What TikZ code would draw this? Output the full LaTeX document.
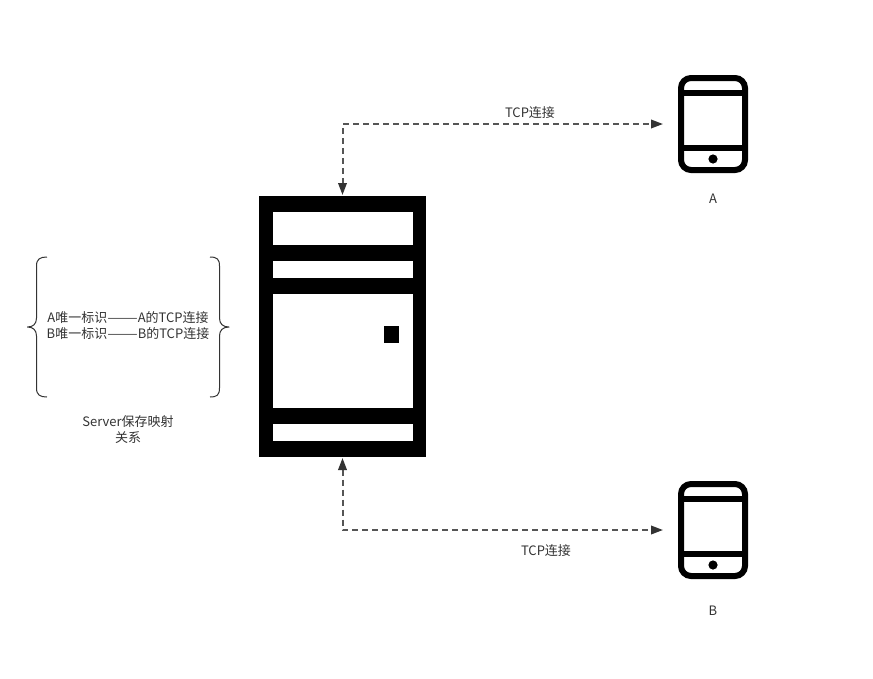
\documentclass[tikz,border=0pt]{standalone}
\usepackage{fontspec}
\setmainfont{Noto Sans CJK SC}
\usetikzlibrary{arrows.meta}

\definecolor{inkgrey}{HTML}{333333}
\definecolor{dashgrey}{HTML}{555555}

% The two em dashes of the table run a little longer than the font sets them
\newcommand{\longdash}{\scalebox{1.4}[1]{——}}

\tikzset{
    serverbox/.style={fill=black, minimum width=167pt, minimum height=261pt, inner sep=0pt, outer sep=0pt},
    phonebox/.style={draw=black, line width=6pt, rounded corners=10pt, minimum width=64pt, minimum height=92pt, inner sep=0pt, outer sep=0pt},
    phoneline/.style={draw=black, line width=6pt},
    slot/.style={fill=white},
    bracket/.style={draw=inkgrey, line width=1pt, line join=round},
    tcplink/.style={draw=dashgrey, line width=2pt, dash pattern=on 6pt off 4pt,
        {Triangle[length=12pt,width=8.5pt,inkgrey]}-{Triangle[length=12pt,width=8.5pt,inkgrey]},
        shorten <=1pt, shorten >=18pt},
    label/.style={text=inkgrey, font=\fontsize{13pt}{16pt}\selectfont, align=center, inner sep=0pt}
}

\begin{document}
\begin{tikzpicture}[x=1pt,y=-1pt]

    % Fix the page to the size of the reference
    \useasboundingbox (0,0) rectangle (873,678);

    % The server tower with its white slots
    \node[serverbox] (server) at (342.5,326.5) {};
    \fill[slot] (272.5,212) rectangle (412.5,245);
    \fill[slot] (272.5,261) rectangle (412.5,278);
    \fill[slot] (272.5,294) rectangle (412.5,408);
    \fill[slot] (272.5,424) rectangle (412.5,441);
    \fill[black] (384,326) rectangle (398.5,343);

    % The two phones, 406 apart
    \foreach \name/\cy in {phoneA/124, phoneB/530}{
        \node[phonebox] (\name) at (713,\cy) {};
        \draw[phoneline] (678,\cy-31) -- (748,\cy-31);
        \draw[phoneline] (678,\cy+24) -- (748,\cy+24);
        \fill[black] (713,\cy+35) circle (4.6);
    }

    % Dashed TCP links from the server to each phone
    \draw[tcplink] (server.north) |- (phoneA.west);
    \draw[tcplink] (server.south) |- (phoneB.west);

    % Left and right braces of the mapping table
    \draw[bracket] (47,257) .. controls (40,257) and (36.5,259) .. (36.5,266)
        -- (36.5,318) .. controls (36.5,324) and (33,327) .. (27.5,327)
        .. controls (33,327) and (36.5,330) .. (36.5,336)
        -- (36.5,388) .. controls (36.5,395) and (40,397) .. (47,397);
    \draw[bracket] (210,257) .. controls (217,257) and (219.5,259) .. (219.5,266)
        -- (219.5,318) .. controls (219.5,324) and (223,327) .. (229,327)
        .. controls (223,327) and (219.5,330) .. (219.5,336)
        -- (219.5,388) .. controls (219.5,395) and (217,397) .. (210,397);

    % Text labels
    \node[label] (tcpA) at (530,113) {TCP连接};
    \node[label] (tcpB) at (546,550.5) {TCP连接};
    \node[label] (nameA) at (713,198.5) {A};
    \node[label] (nameB) at (713,610.5) {B};
    \node[label] (table) at (128,326) {A唯一标识\longdash A的TCP连接\\B唯一标识\longdash B的TCP连接};
    \node[label] (caption) at (128,429.5) {Server保存映射\\关系};

\end{tikzpicture}
\end{document}
